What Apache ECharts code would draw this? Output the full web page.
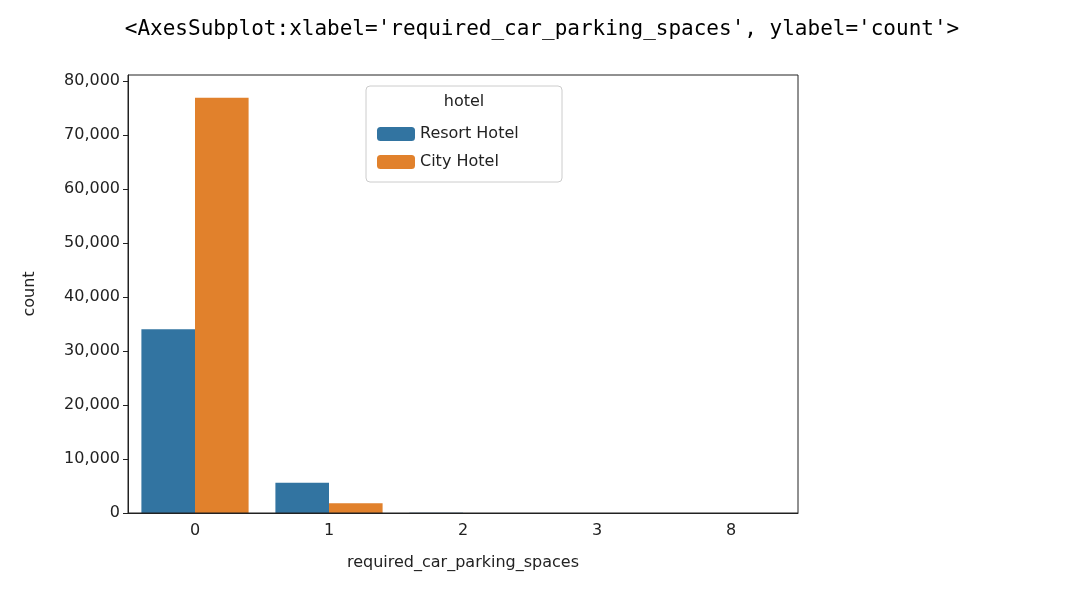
<!DOCTYPE html>
<html><head><meta charset="utf-8">
<script src="https://cdn.jsdelivr.net/npm/echarts@6/dist/echarts.min.js"></script>
<style>html,body{margin:0;background:#fff}#c{width:1074px;height:592px}</style>
</head><body><div id="c"></div>
<script>
const categories = ['0','1','2','3','8'];
const resortHotel = [34000, 5600, 27, 3, 2];
const cityHotel = [76900, 1800, 1, 0, 0];
const chart = echarts.init(document.getElementById('c'));
const f = 'DejaVu Sans';
chart.setOption({
  animation:false,
  title:{text:"<AxesSubplot:xlabel='required_car_parking_spaces', ylabel='count'>",left:537,textAlign:'center',top:14,textStyle:{fontFamily:'DejaVu Sans Mono',fontSize:21,fontWeight:'normal',color:'#000'}},
  grid:{left:128,right:276,top:75,bottom:79},
  graphic:[
    {type:'rect',shape:{x:366,y:86,width:196,height:96,r:4},style:{fill:'#fff',stroke:'#ccc',lineWidth:1},z:90},
    {type:'text',x:464,y:102,style:{text:'hotel',fontFamily:f,fontSize:16,fill:'#222',textAlign:'center',textVerticalAlign:'middle'},z:100}
  ],
  legend:{orient:'vertical',left:372,top:121,itemWidth:38,itemHeight:14,itemGap:12,z:100,textStyle:{fontFamily:f,fontSize:16,color:'#222'},data:['Resort Hotel','City Hotel']},
  xAxis:{type:'category',data:categories,name:'required_car_parking_spaces',nameLocation:'middle',nameGap:42,nameTextStyle:{fontFamily:f,fontSize:16,color:'#222'},
    axisLine:{lineStyle:{color:'#222'}},axisTick:{alignWithLabel:true,lineStyle:{color:'#222'}},axisLabel:{fontFamily:f,fontSize:16,color:'#222',margin:10}},
  yAxis:{type:'value',min:0,max:81100,interval:10000,name:'count',nameLocation:'middle',nameGap:90,nameTextStyle:{fontFamily:f,fontSize:16,color:'#222'},
    splitLine:{show:false},axisLine:{show:true,lineStyle:{color:'#222'}},axisTick:{show:true,lineStyle:{color:'#222'}},axisLabel:{fontFamily:f,fontSize:16,color:'#222',showMaxLabel:false}},
  series:[
    {name:'Resort Hotel',type:'bar',data:resortHotel,itemStyle:{color:'#3274a1'},barGap:'0%',barCategoryGap:'20%'},
    {name:'City Hotel',type:'bar',data:cityHotel,itemStyle:{color:'#e1812c'}}
  ]
});
// right/top frame
chart.setOption({graphic:[{},{},{type:'rect',shape:{x:128,y:75,width:670,height:438},style:{fill:'none',stroke:'#222',lineWidth:1},z:50}]});
</script></body></html>
